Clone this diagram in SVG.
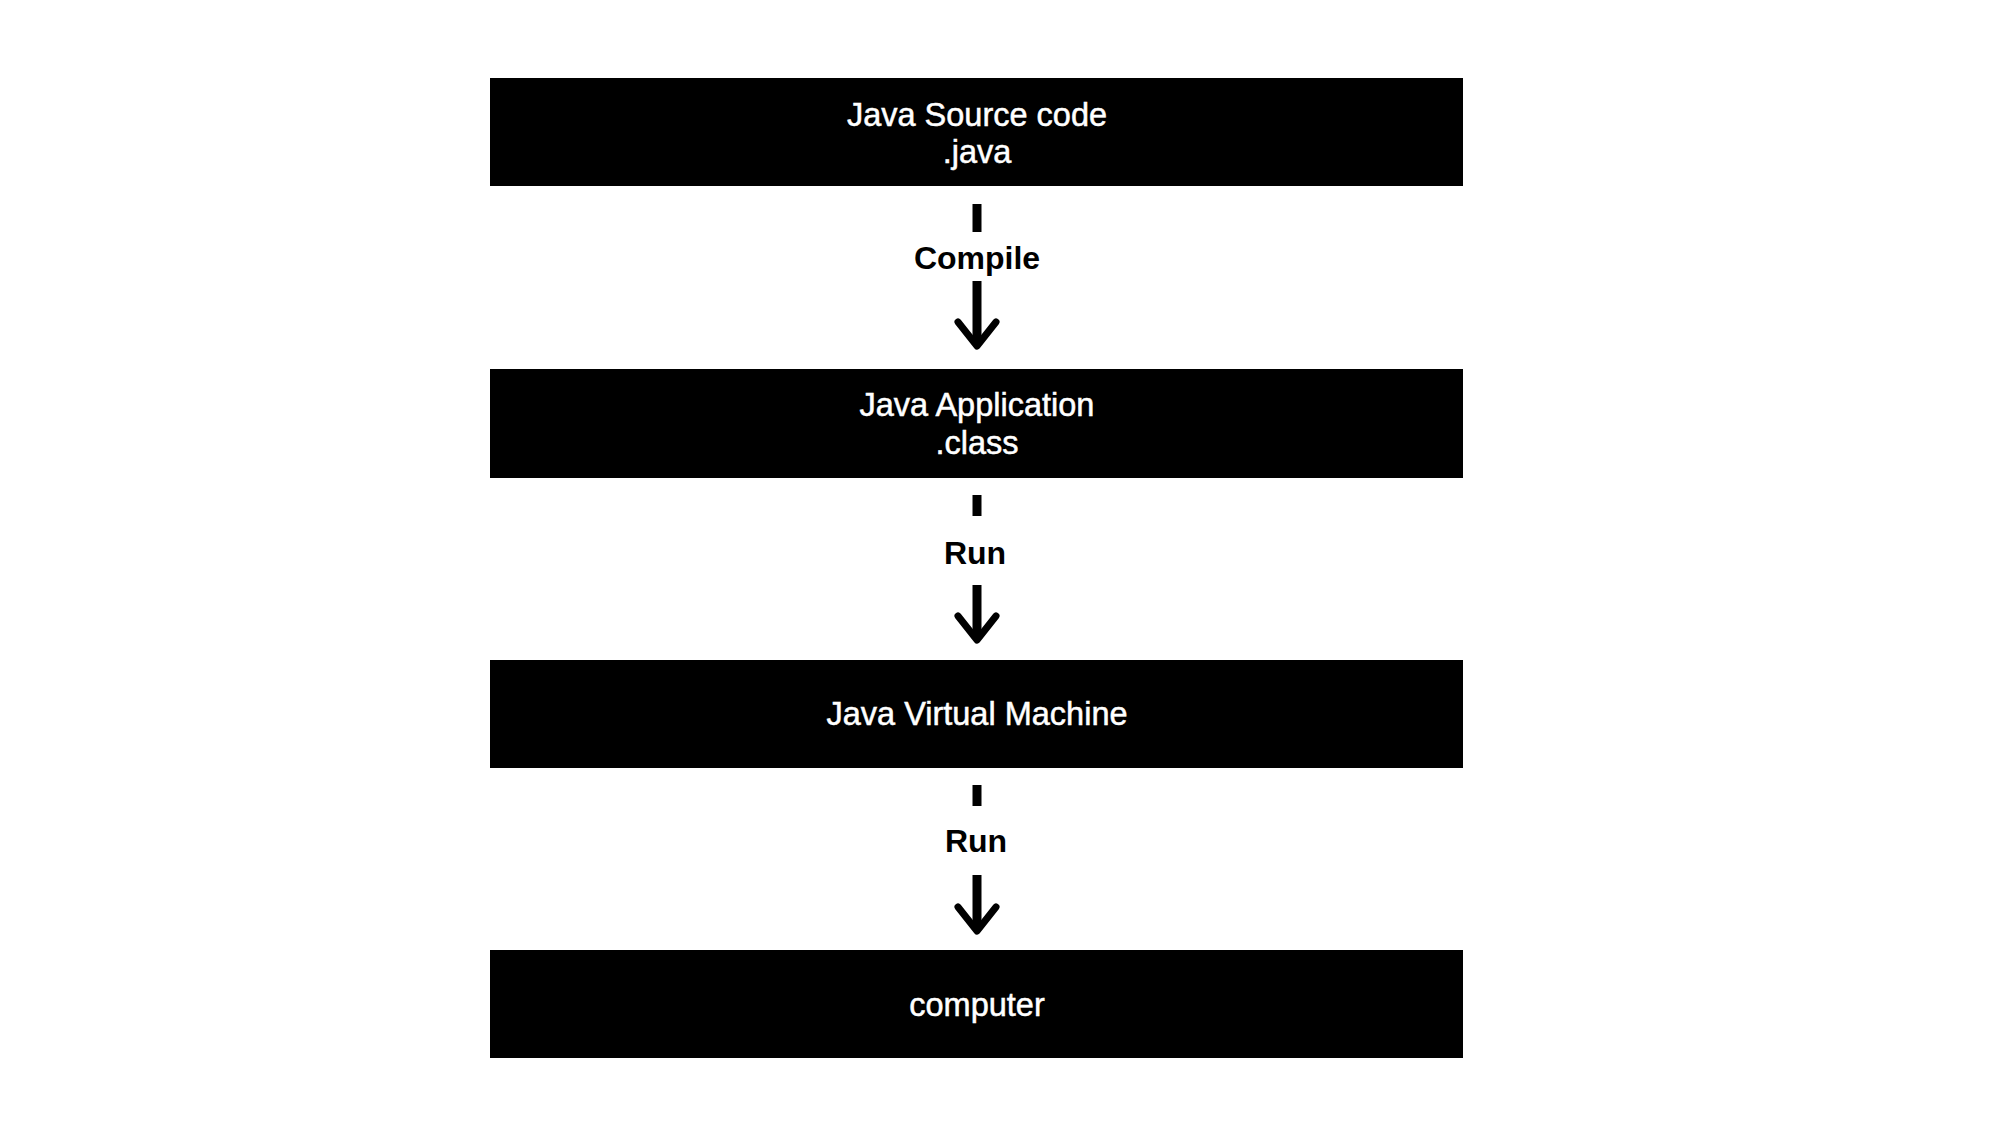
<svg xmlns="http://www.w3.org/2000/svg" width="2000" height="1135" viewBox="0 0 2000 1135">
<style>
.box{fill:#000}
.t{fill:#fff;font-family:"Liberation Sans",Arial,sans-serif;font-size:32.5px;text-anchor:middle;dominant-baseline:central;stroke:#fff;stroke-width:0.5}
.l{fill:#000;font-family:"Liberation Sans",Arial,sans-serif;font-size:32px;font-weight:bold;text-anchor:middle;dominant-baseline:central}
.c{stroke:#000;stroke-width:9;fill:none}
.h{stroke:#000;stroke-width:7;fill:none;stroke-linecap:round;stroke-linejoin:round}
</style>
<rect width="2000" height="1135" fill="#fff"/>
<g id="n1"><rect class="box" x="490" y="78" width="973" height="108"/><text class="t" x="977" y="115">Java Source code</text><text class="t" x="977" y="152">.java</text></g>
<g id="n2"><rect class="box" x="490" y="369" width="973" height="109"/><text class="t" x="977" y="405">Java Application</text><text class="t" x="977" y="443">.class</text></g>
<g id="n3"><rect class="box" x="490" y="660" width="973" height="108"/><text class="t" x="977" y="714">Java Virtual Machine</text></g>
<g id="n4"><rect class="box" x="490" y="950" width="973" height="108"/><text class="t" x="977" y="1005">computer</text></g>
<g id="connectors">
<line class="c" x1="977" y1="204" x2="977" y2="232"/><text class="l" x="977" y="258">Compile</text><line class="c" x1="977" y1="281" x2="977" y2="345"/><polyline class="h" points="958,322 977,346 996,322"/>
<line class="c" x1="977" y1="495" x2="977" y2="516"/><text class="l" x="975" y="553">Run</text><line class="c" x1="977" y1="585" x2="977" y2="639"/><polyline class="h" points="958,616 977,640 996,616"/>
<line class="c" x1="977" y1="785" x2="977" y2="806"/><text class="l" x="976" y="841">Run</text><line class="c" x1="977" y1="875" x2="977" y2="930"/><polyline class="h" points="958,907 977,931 996,907"/>
</g>
</svg>
